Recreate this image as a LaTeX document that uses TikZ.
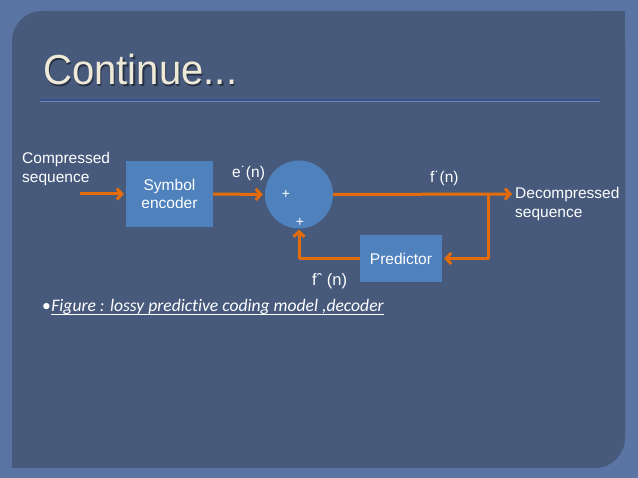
\documentclass[tikz,border=0pt]{standalone}
\usepackage{fontspec}
\setmainfont{Liberation Sans}
\newfontfamily\capfont[Ligatures=NoCommon]{Carlito}
\newfontfamily\titlefont[FakeStretch=0.955]{Liberation Sans}
\usetikzlibrary{arrows.meta}
\definecolor{outerbg}{HTML}{5A74A3}
\definecolor{panel}{HTML}{475A7C}
\definecolor{boxblue}{HTML}{4F81BD}
\definecolor{arrorange}{HTML}{E46C0A}
\definecolor{titlecol}{HTML}{EFE9D8}
\definecolor{rulecol}{HTML}{34548A}
\definecolor{rulelight}{HTML}{6A84B3}
\begin{document}
\begin{tikzpicture}[x=1pt,y=-1pt,
  lbl/.style={text=white,font=\fontsize{15.5}{19}\selectfont,inner sep=0},
  blk/.style={fill=boxblue,draw=none,text=white,align=center,inner sep=0,
    font=\fontsize{15.5}{18.5}\selectfont},
  plus/.style={text=white,font=\fontsize{14}{14}\selectfont,inner sep=0},
  flow/.style={draw=arrorange,line width=3pt,line join=round,
    -{Straight Barb[length=5pt,width=11pt,line width=3pt]}},
  titlestyle/.style={anchor=base west,inner sep=0,
    font=\titlefont\fontsize{42}{42}\selectfont},
  capstyle/.style={anchor=base west,inner sep=0,text=white,
    font=\capfont\fontsize{17.6}{20}\selectfont}
]
\useasboundingbox (0,0) rectangle (638,478);
% background
\fill[outerbg] (0,0) rectangle (638,478);
\fill[panel,rounded corners=30pt] (12,11) rectangle (625,468);
\fill[panel] (595,11) rectangle (625,41);
\fill[panel] (12,438) rectangle (42,468);
% title
\node (titleshadow) [titlestyle,text=black,opacity=0.45] at (44.5,86.5) {Continue...};
\node (title) [titlestyle,text=titlecol] at (43,85) {Continue...};
\draw[rulecol,line width=1.3pt] (40,100) -- (600,100);
\draw[rulelight,line width=0.6pt] (40,101.4) -- (600,101.4);
% blocks
\node (enc) [blk,minimum width=87pt,minimum height=66pt] at (169.5,194) {Symbol\\encoder};
\node (sum) [circle,fill=boxblue,minimum size=68pt,inner sep=0] at (299,194.5) {};
\node (p1) [plus] at (286,194) {+};
\node (p2) [plus] at (300,222) {+};
\node (pred) [blk,minimum width=82pt,minimum height=47pt] at (401,258.5) {Predictor};
% labels
\node (cs) [lbl,anchor=north west,align=left] at (22,151.7) {Compressed\\sequence};
\node (ds) [lbl,anchor=north west,align=left] at (515,186.7) {Decompressed\\sequence};
\node (el) [lbl,anchor=base west] at (232,178) {e˙(n)};
\node (fl) [lbl,anchor=base west] at (430,183) {f˙(n)};
\node (fh) [lbl,anchor=base west,font=\fontsize{16.5}{19}\selectfont] at (312,286) {fˆ (n)};
% connectors
\coordinate (in) at (80,194);
\coordinate (out) at (512,194);
\coordinate (br) at (488,194);
\draw[flow,shorten >=2pt] (in) -- (enc.west);
\draw[flow,shorten >=2pt] (enc.east) -- (sum.west);
\draw[flow] (sum.east) -- (out);
\draw[flow,shorten >=2pt] (br) -- (br |- pred.east) -- (pred.east);
\draw[flow,shorten >=1pt] (pred.west) -| (sum.south);
% caption
\node (bul) [capstyle] at (42,312) {•};
\node (cap) [capstyle,anchor=base west,font=\capfont\itshape\fontsize{17.6}{20}\selectfont] at (bul.base east)
  {Figure : lossy predictive coding model ,decoder};
\draw[white,line width=0.9pt] ([yshift=-2.6pt]cap.base west) -- ([yshift=-2.6pt]cap.base east);
\end{tikzpicture}
\end{document}
